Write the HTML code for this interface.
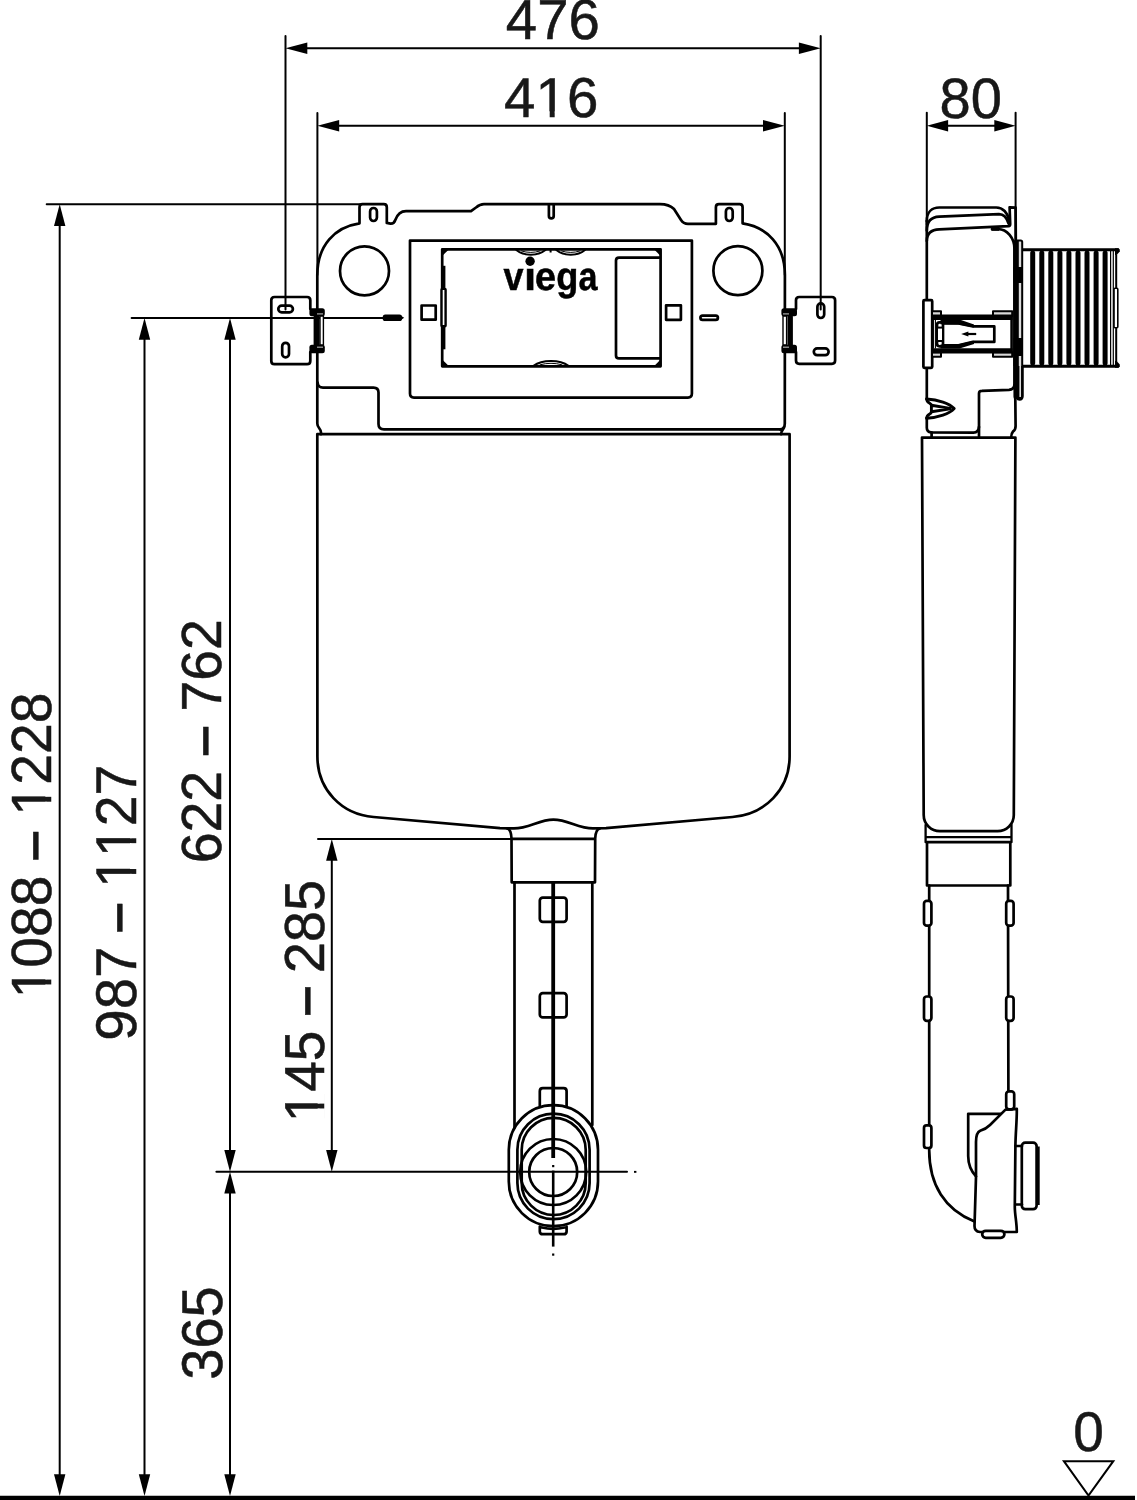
<!DOCTYPE html>
<html><head><meta charset="utf-8">
<style>
html,body{margin:0;padding:0;background:#fff;}
body{width:1137px;height:1500px;overflow:hidden;font-family:"Liberation Sans",sans-serif;}
svg{display:block;}
svg{filter:grayscale(1);}
text{font-family:"Liberation Sans",sans-serif;fill:#1a1718;stroke:#1a1718;stroke-width:0.5;text-rendering:geometricPrecision;font-kerning:none;}
.m{fill:none;stroke:#000;stroke-width:2.7;stroke-linejoin:round;stroke-linecap:round;}
.t{fill:none;stroke:#000;stroke-width:2;stroke-linecap:round;}
.k{fill:#000;stroke:none;}
</style></head><body>
<svg width="1137" height="1500" viewBox="0 0 1137 1500">
<rect width="1137" height="1500" fill="#fff"/>
<line class="t" x1="285.5" y1="36" x2="285.5" y2="309.6"/>
<line class="t" x1="820.7" y1="36" x2="820.7" y2="309.6"/>
<line class="t" x1="293.5" y1="48.2" x2="812.7" y2="48.2"/>
<polygon class="k" points="285.5,48.2 307.3,42.5 307.3,53.9"/>
<polygon class="k" points="820.7,48.2 798.9,53.9 798.9,42.5"/>
<line class="t" x1="317.4" y1="113" x2="317.4" y2="275"/>
<line class="t" x1="784.8" y1="113" x2="784.8" y2="275"/>
<line class="t" x1="325.4" y1="125.7" x2="776.8" y2="125.7"/>
<polygon class="k" points="317.4,125.7 339.2,120.0 339.2,131.4"/>
<polygon class="k" points="784.8,125.7 763.0,131.4 763.0,120.0"/>
<line class="t" x1="926.8" y1="112.7" x2="926.8" y2="225"/>
<line class="t" x1="1015.6" y1="112.7" x2="1015.6" y2="240"/>
<line class="t" x1="934.8" y1="125.7" x2="1007.6" y2="125.7"/>
<polygon class="k" points="926.8,125.7 948.1,120.0 948.1,131.4"/>
<polygon class="k" points="1015.6,125.7 994.3,131.4 994.3,120.0"/>
<line class="t" x1="46.7" y1="204.2" x2="360" y2="204.2"/>
<line class="t" x1="59.7" y1="212.2" x2="59.7" y2="1488.0"/>
<polygon class="k" points="59.7,204.2 65.4,226.0 54.0,226.0"/>
<polygon class="k" points="59.7,1496.0 54.0,1474.2 65.4,1474.2"/>
<line class="t" x1="131.6" y1="317.9" x2="384" y2="317.9"/>
<line class="t" x1="144.5" y1="325.9" x2="144.5" y2="1488.0"/>
<polygon class="k" points="144.5,317.9 150.2,339.7 138.8,339.7"/>
<polygon class="k" points="144.5,1496.0 138.8,1474.2 150.2,1474.2"/>
<line class="t" x1="230.0" y1="325.9" x2="230.0" y2="1163.8"/>
<polygon class="k" points="230.0,317.9 235.7,339.7 224.3,339.7"/>
<polygon class="k" points="230.0,1171.8 224.3,1150.0 235.7,1150.0"/>
<line class="t" x1="230.0" y1="1179.8" x2="230.0" y2="1488.0"/>
<polygon class="k" points="230.0,1171.8 235.7,1193.6 224.3,1193.6"/>
<polygon class="k" points="230.0,1496.0 224.3,1474.2 235.7,1474.2"/>
<line class="t" x1="318" y1="838.9" x2="512" y2="838.9"/>
<line class="t" x1="331.8" y1="846.9" x2="331.8" y2="1163.8"/>
<polygon class="k" points="331.8,838.9 337.5,860.7 326.1,860.7"/>
<polygon class="k" points="331.8,1171.8 326.1,1150.0 337.5,1150.0"/>
<line class="t" x1="216.4" y1="1171.8" x2="627" y2="1171.8"/>
<rect class="k" x="634" y="1170.9" width="2.4" height="1.9"/>
<line x1="0" y1="1498" x2="1135" y2="1498" stroke="#000" stroke-width="4.4"/>
<polygon class="t" points="1063.9,1461.2 1113.3,1461.2 1088.5,1495.5" stroke-linejoin="miter"/>
<g id="front">
<!-- body outline -->
<path class="m" d="M321 434.2 L321 432.5 C321 428.5 317.3 428 317.3 423.5 L317.3 275 C317.4 245 335 227 359.5 223.3 L359.5 207.2 Q359.5 204.2 362.5 204.2 L383.8 204.2 Q386.8 204.2 386.8 207.2 L386.8 222.9 L390.5 223.6 Q394 223.8 395.3 220 Q398.5 211.1 406 211.1 L471 211.1 L476 207.5 Q480 204.1 484 204.1 L660 204.1 Q669 204.1 674 209 L681 220 Q683.5 223.8 688 223.8 L715.9 223.8 L715.9 207.2 Q715.9 204.2 718.9 204.2 L739.6 204.2 Q742.6 204.2 742.6 207.2 L742.6 223.3 C767 227 784.9 245 784.9 275 L784.8 423.5 C784.8 427 783.5 429.3 780 429.3 M784.5 426.5 C783.5 430 781.1 430 781.1 434.2"/>
<!-- bottom line & step -->
<path class="m" d="M317.6 382.5 Q318 387.6 323 387.6 L373.5 387.6 Q378.5 387.6 378.5 392.6 L378.5 424 Q378.5 429.3 384 429.3 L780.6 429.3"/>
<!-- tab slots -->
<rect class="m" x="370.1" y="208" width="6.8" height="13" rx="3.4"/>
<rect class="m" x="725.9" y="208" width="6.8" height="13" rx="3.4"/>
<path class="m" d="M548.9 204.5 L548.9 216 A2.4 2.4 0 0 0 553.7 216 L553.7 204.5" stroke-width="1.8"/>
<!-- circles -->
<circle class="m" cx="364.5" cy="270.9" r="24.5"/>
<circle class="m" cx="737.9" cy="270.7" r="24.5"/>
<!-- outer frame -->
<path class="m" d="M410 240.6 L691.9 240.6 L691.9 393.5 Q691.9 397.6 687.9 397.6 L414 397.6 Q410 397.6 410 393.5 Z"/>
<!-- inner frame -->
<rect class="m" x="442.2" y="249.3" width="218.4" height="117" stroke-width="2.6" stroke-linejoin="miter"/>
<polygon class="k" points="442.2,249.3 449,249.3 442.2,256"/>
<polygon class="k" points="660.6,249.3 654,249.3 660.6,256"/>
<polygon class="k" points="442.2,366.3 449,366.3 442.2,359.5"/>
<polygon class="k" points="660.6,366.3 654,366.3 660.6,359.5"/>
<line x1="443.6" y1="265.8" x2="443.6" y2="349.3" stroke="#000" stroke-width="3.6"/>
<rect x="441.5" y="288.9" width="4.1" height="37.3" rx="0.8" fill="#fff" stroke="#000" stroke-width="2.4"/>
<!-- bumps -->
<path class="t" d="M516.3 250 Q522 254.7 530.8 254.7 Q539.5 254.7 545.5 250" style="stroke-width:2"/><path class="t" d="M521.5 251 Q530.8 253.9 540 251" style="stroke-width:1"/>
<path class="t" d="M556.3 250 Q562 254.7 570.7 254.7 Q579.5 254.7 585 250" style="stroke-width:2"/><path class="t" d="M561.5 251 Q570.7 253.9 580 251" style="stroke-width:1"/>
<path class="t" d="M533.5 365.8 Q540 360.9 551 360.9 Q562 360.9 568.5 365.8" style="stroke-width:2"/><path class="t" d="M540 364.8 Q551 361.7 562 364.8" style="stroke-width:1"/>
<rect class="k" x="549.6" y="249.3" width="2" height="3.2"/>
<!-- inner small rect -->
<path class="m" d="M659.5 257.6 L619 257.6 Q616 257.6 616 260.6 L616 355.4 Q616 358.4 619 358.4 L659.5 358.4"/>
<!-- small squares -->
<rect class="m" x="421.6" y="305.5" width="14.1" height="14.2" stroke-width="2.4"/>
<rect class="m" x="666.1" y="305.3" width="14.8" height="14.5" stroke-width="2.4"/>
<!-- dash markers -->
<rect class="k" x="382.7" y="314.6" width="19.4" height="6.4" rx="2.6"/>
<polygon class="k" points="401.3,315.9 404.2,317.8 401.3,319.7"/>
<rect class="m" x="700.4" y="315.6" width="17.5" height="4.3" rx="2.15" stroke-width="2.2"/>
<!-- brackets -->
<path class="m" d="M310.3 309 L310.3 300.2 Q310.3 297 307.1 297 L274.5 297 Q271.3 297 271.3 300.2 L271.3 361 Q271.3 364.2 274.5 364.2 L307.1 364.2 Q310.3 364.2 310.3 361 L310.3 352"/>
<rect class="m" x="278.3" y="305.6" width="14.6" height="6.8" rx="3.4"/>
<rect class="m" x="282.2" y="342.8" width="6.8" height="14.6" rx="3.4"/>
<path class="m" d="M796 309 L796 300.2 Q796 297 799.2 297 L831.9 297 Q835.1 297 835.1 300.2 L835.1 360.6 Q835.1 363.8 831.9 363.8 L799.2 363.8 Q796 363.8 796 360.6 L796 352"/>
<rect class="m" x="817.4" y="303.4" width="6.8" height="14.6" rx="3.4"/>
<rect class="m" x="813.8" y="348.4" width="14.8" height="6.8" rx="3.4"/>
<!-- clips -->
<g>
<rect class="k" x="313.6" y="315" width="6" height="31" rx="1.5"/>
<rect x="320" y="316" width="3.4" height="29" fill="#fff" stroke="#000" stroke-width="1.4"/>
<rect class="k" x="309.4" y="308.2" width="15.4" height="8" rx="2.5"/>
<rect class="k" x="309.4" y="344.8" width="15.4" height="8.4" rx="2.5"/>
<rect x="317" y="313.3" width="6" height="1.2" fill="#aaa"/>
<rect x="317" y="346.6" width="6" height="1.2" fill="#aaa"/>
</g>
<g>
<rect class="k" x="787.5" y="315" width="5.4" height="31" rx="1.5"/>
<rect x="783" y="316" width="3.6" height="29" fill="#fff" stroke="#000" stroke-width="1.4"/>
<rect class="k" x="781.4" y="308.2" width="15.6" height="8" rx="2.5"/>
<rect class="k" x="781.4" y="344.8" width="15.6" height="8.4" rx="2.5"/>
<rect x="783" y="313.3" width="6" height="1.2" fill="#aaa"/>
<rect x="783" y="346.6" width="6" height="1.2" fill="#aaa"/>
</g>
<!-- logo -->
<text transform="translate(503.46,289.8) scale(0.9046,1)" font-size="39.75" font-weight="bold" style="fill:#000;stroke:#000;stroke-width:0.5">v</text>
<text transform="translate(524.10,289.8) scale(1.1001,1)" font-size="39.75" font-weight="bold" style="fill:#000;stroke:#000;stroke-width:0.5">ı</text>
<text transform="translate(535.03,289.8) scale(0.9481,1)" font-size="39.75" font-weight="bold" style="fill:#000;stroke:#000;stroke-width:0.5">e</text>
<text transform="translate(556.22,289.8) scale(0.9104,1)" font-size="39.75" font-weight="bold" style="fill:#000;stroke:#000;stroke-width:0.5">g</text>
<text transform="translate(578.50,289.8) scale(0.8587,1)" font-size="39.75" font-weight="bold" style="fill:#000;stroke:#000;stroke-width:0.5">a</text>
<circle class="k" cx="530.1" cy="261.2" r="4.7"/>

<!-- cistern -->
<path class="m" d="M317.3 434.2 L789.6 434.2 L789.6 756.5 C789.6 789.5 765 814.4 732.5 817 L606 828.2 L593 828.4 C578 828.4 568 819.6 553.4 819.6 C539 819.6 529 828.4 514 828.4 L500 828.2 L373.6 817 C341.5 814.4 317.4 789.5 317.4 756.5 Z"/>
<!-- neck -->
<path class="m" d="M507 828.4 Q511 829 511.5 838.5 L511.7 882.3 L595 882.3 L595.2 838.5 Q595.7 829 600 828.4 M511.6 838.8 L595.2 838.8"/>
<!-- pipe -->
<line class="m" x1="514.5" y1="882.4" x2="514.5" y2="1127.5"/>
<line class="m" x1="592.3" y1="882.4" x2="592.3" y2="1125"/>
<line x1="553.2" y1="882.4" x2="553.2" y2="1158" stroke="#000" stroke-width="3.8"/>
<rect class="m" x="539.8" y="897.6" width="26.8" height="24.2" rx="3"/>
<rect class="m" x="539.8" y="993.2" width="26.8" height="24.2" rx="3"/>
<path class="m" d="M539.8 1106 L539.8 1091.2 Q539.8 1088.2 542.8 1088.2 L563.6 1088.2 Q566.6 1088.2 566.6 1091.2 L566.6 1106"/>
<!-- ovals -->
<rect class="m" x="508.8" y="1105.2" width="89.2" height="121" rx="44.6"/>
<rect class="m" x="517.4" y="1113.6" width="72.2" height="105.6" rx="36.1"/>
<rect class="m" x="521.7" y="1117.8" width="64" height="97.2" rx="32" stroke-width="2.4"/>
<circle class="m" cx="553.2" cy="1172" r="33"/>
<circle class="m" cx="553.2" cy="1172" r="24"/>
<path class="m" d="M539.8 1226.6 L539.8 1231.4 Q539.8 1234.2 542.8 1234.2 L563.6 1234.2 Q566.6 1234.2 566.6 1231.4 L566.6 1226.6 M542 1227.5 Q553 1230.3 564.5 1227.5" stroke-width="1.8"/>
<!-- centre lines -->
<line x1="553.2" y1="1170.6" x2="553.2" y2="1246.6" stroke="#000" stroke-width="2.6"/>
<rect class="k" x="552.1" y="1165" width="2.2" height="2.2"/>
<rect class="k" x="552.1" y="1253.5" width="2.2" height="2.2"/>
</g>

<g id="side">
<!-- top cap -->
<path class="m" d="M926.8 221 C926.8 212 932 207.5 939.3 207.5 L996.3 207.5 C1003 207.5 1007.5 213 1009 219.5 L1009.6 225"/>
<path class="m" d="M926.8 230.5 C926.8 221 932 216.9 939.3 216.6 L999 214.2 C1004 214.2 1007 218.5 1008.6 223.6"/>
<path class="m" d="M926.8 241 C926.8 233 932 229.6 939.3 229.3 L1008.5 226.2 Q1010.2 226 1010.2 224 L1009.6 207.3 L1015.6 207.6 L1015.8 240"/>
<path class="m" d="M992 229.2 L998 229.2 C1007 229.2 1014.5 238 1014.5 249 L1014.5 385" />
<line x1="991.5" y1="229.3" x2="999" y2="229.3" stroke="#000" stroke-width="3"/>
<!-- left line -->
<path class="m" d="M926.8 221 L926.8 300 M926.8 368 L926.8 399"/>
<!-- fin -->
<g class="m" style="stroke-width:2.9">
<path d="M926.7 399 C938 399.6 949.5 403.6 954.2 408.6 C949.5 413.8 938 417.4 926.7 418.2"/>
<path d="M931.4 405.2 L931.4 411.8 M931.4 405.2 L951.5 408.6 L931.4 411.8" stroke-linejoin="miter"/>
<path d="M926.7 399 C926.7 403.6 931.4 402.4 931.4 405.6 M931.4 411.4 C931.4 414.8 926.7 413.6 926.7 418.2"/>
</g>
<!-- lower left -->
<path class="m" d="M926.8 418.2 L926.8 427.8 Q926.8 432.2 931.2 432.4 L973.5 432.6 Q978.6 432.4 979 426.8"/>
<path class="m" d="M931.6 432.4 L931.6 437.6 M979 437.6 L979 393.5 Q979 390.8 981.8 390.8 L1009 389.8 Q1013.8 389.5 1014.5 385"/>
<path class="m" d="M1015.2 388 L1015.6 426 Q1015.6 430 1013 431.5 Q1011.2 433.4 1011.2 437.6"/>
<!-- flange -->
<rect x="1014.6" y="240.4" width="7.6" height="157.6" rx="1.5" fill="#dcdcdc" stroke="#000" stroke-width="2"/>
<rect class="k" x="1013.4" y="241" width="5.4" height="125"/><rect class="k" x="1013.8" y="366" width="5.6" height="32.5"/>
<rect class="k" x="1013.6" y="267" width="9" height="16"/>
<rect class="k" x="1013.6" y="338" width="9" height="18"/>
<path d="M1016 366 L1016.8 397 Q1017 399.5 1019.5 399.5 Q1022.4 399.5 1022.4 396 L1022.4 366" fill="none" stroke="#000" stroke-width="2.6"/>
<!-- cylinder -->
<path d="M1023 249.8 L1118.6 249.8 M1023 366.3 L1118.6 366.3" stroke="#000" stroke-width="3" fill="none"/>
<g stroke="#000" stroke-width="5" stroke-linecap="round">
<line x1="1032.7" y1="253" x2="1032.7" y2="363"/><line x1="1041.8" y1="253" x2="1041.8" y2="363"/><line x1="1050.8" y1="253" x2="1050.8" y2="363"/><line x1="1059.9" y1="253" x2="1059.9" y2="363"/><line x1="1068.9" y1="253" x2="1068.9" y2="363"/><line x1="1078" y1="253" x2="1078" y2="363"/><line x1="1087" y1="253" x2="1087" y2="363"/><line x1="1096.1" y1="253" x2="1096.1" y2="363"/><line x1="1105.1" y1="253" x2="1105.1" y2="363"/>
</g>
<path d="M1110.6 251 L1110.6 365 M1113.3 251 L1113.3 365" stroke="#000" stroke-width="1.2" fill="none"/>
<path d="M1116.2 254.5 L1116.2 362" stroke="#000" stroke-width="2" fill="none"/>
<polygon class="k" points="1115,248.3 1118.6,248.3 1119.8,249.6 1119.8,251.5 1116.6,255 1115,255"/>
<polygon class="k" points="1115,367.8 1118.6,367.8 1119.8,366.5 1119.8,364.6 1116.6,361 1115,361"/>
<rect x="1114" y="288.3" width="3.8" height="39.5" rx="1" fill="#fff" stroke="#000" stroke-width="1.6"/>
<!-- left plate -->
<rect class="m" x="923.4" y="300.2" width="8.8" height="67.6" rx="1" fill="#fff" style="fill:#fff"/>
<!-- valve -->
<g fill="#d8d8d8" stroke="#000" stroke-width="2" stroke-linejoin="round">
<rect x="932" y="311.2" width="9" height="5"/><rect x="932" y="352.2" width="9" height="4.6"/>
<rect x="993" y="311.2" width="19.2" height="5"/><rect x="993" y="352.2" width="19.2" height="4.6"/>
</g>
<line x1="931.4" y1="317.3" x2="1012.6" y2="317.3" stroke="#000" stroke-width="5.6"/>
<line x1="931.4" y1="350.9" x2="1012.6" y2="350.9" stroke="#000" stroke-width="5.4"/>
<line x1="1011.6" y1="315" x2="1011.6" y2="353" stroke="#000" stroke-width="2.6"/>
<path d="M933.4 320 L933.4 348.4 M935.4 320 L935.4 348.4" stroke="#000" stroke-width="1.1" fill="none"/>
<polygon class="k" points="940.5,319.5 959.5,319.5 974,324.4 974,327.6 958.5,324.6 940.5,324.2"/>
<polygon class="k" points="940.5,348.6 959.5,348.6 974,343.9 974,340.7 958.5,344.2 940.5,344.6"/>
<path d="M943 323.5 L958.5 323.5 L973 326.4 L994.3 326.4 L994.3 341.9 L973 341.9 L958.5 345.3 L943 345.3" class="m" stroke-width="2.2" stroke-linejoin="miter"/>
<path d="M943 322.4 L939.5 322.4 Q937 322.4 937 325 L937 327 M937 341.8 L937 343.8 Q937 346.3 939.5 346.3 L943 346.3 M943 322.4 L943 346.3" class="m" stroke-width="2"/>
<rect x="937" y="327.6" width="6" height="13.4" fill="#fff" stroke="#000" stroke-width="2"/>
<line x1="966" y1="334" x2="976.2" y2="334" stroke="#000" stroke-width="2.2"/>
<polygon class="k" points="961.2,334 968.4,331.4 968.4,336.6"/>
<!-- cistern side -->
<path class="m" d="M922 437.6 L1015.4 437.6 L1013.8 815 A16.2 16.2 0 0 1 997.6 831.2 L939.9 831.2 A16.2 16.2 0 0 1 923.7 815 Z"/>
<path class="m" d="M925.6 825 L925.6 842.2 M1011.5 825 L1011.5 842.2 M925.6 837.2 L1011.5 837.2" style="stroke-width:2.3"/>
<path class="m" d="M927 842.2 L1010.3 842.2 L1010.3 885.5 L927 885.5 Z"/>
<!-- pipe -->
<path class="m" d="M929.2 885.5 L929.2 1150 C929.2 1185 945 1210 974.5 1221.5"/>
<path class="m" d="M1008 885.5 L1008.4 1092"/>
<g class="m" style="fill:#fff">
<rect x="924" y="900.9" width="7.4" height="24.8" rx="2.8"/><rect x="924" y="996.5" width="7.4" height="24.4" rx="2.8"/><rect x="924" y="1125.4" width="7.4" height="22.6" rx="2.5"/>
<rect x="1006.2" y="900.9" width="7.4" height="24.8" rx="2.8"/><rect x="1006.2" y="996.5" width="7.4" height="24.4" rx="2.8"/><rect x="1006.2" y="1091.4" width="8" height="18" rx="2.8"/>
</g>
<!-- elbow -->
<path class="m" d="M1000.6 1113.8 L968.2 1113.8 L968.2 1156 C968.2 1164 971 1171 976 1176.4"/>
<path class="m" d="M1005.5 1109.6 L990 1125 Q986 1129 980.2 1130.7 C977 1132 976 1136 976 1142 L976 1177 L974.5 1226 Q974.5 1231.5 980 1232 L1016.8 1232 C1016.8 1222 1014.8 1215 1014.8 1207 L1015.4 1146 C1015.6 1132 1017 1120 1016.8 1108.8 Q1011 1109.5 1005.5 1109.6 Z"/>
<rect class="m" x="982.2" y="1230.8" width="22.2" height="7" rx="3.5" style="fill:#fff"/>
<path class="m" d="M1015.4 1146 L1022 1146 M1015.2 1204.5 L1022 1204.5"/>
<rect class="m" x="1021.8" y="1142.6" width="14.8" height="66.6" rx="3.5"/>
<line x1="1038.4" y1="1146.5" x2="1038.4" y2="1205" stroke="#000" stroke-width="2.6"/>
</g>

<g id="txt">
<g transform="translate(505.81,38.95) scale(1.0057,1.0089)"><text font-size="56">476</text></g>
<g transform="translate(504.10,117.25) scale(1.0079,1.0013)"><text font-size="56">416</text><rect x="32.79" y="-5.88" width="12.44" height="7.25" fill="#fff"/><rect x="50.18" y="-5.88" width="11.05" height="7.25" fill="#fff"/></g>
<g transform="translate(939.57,117.64) scale(1.0006,1.0164)"><text font-size="56">80</text></g>
<g transform="translate(1073.15,1450.65) scale(0.9825,0.9988)"><text font-size="56">0</text></g>
<g transform="translate(51.34,998.30) rotate(-90) scale(0.9841,1.0113)"><text font-size="56">1088</text><rect x="1.64" y="-5.88" width="12.44" height="7.25" fill="#fff"/><rect x="19.03" y="-5.88" width="11.05" height="7.25" fill="#fff"/></g>
<g transform="translate(53.55,859.40) rotate(-90) scale(0.8838,1.2813)"><text font-size="56">–</text></g>
<g transform="translate(51.34,815.61) rotate(-90) scale(0.9875,1.0113)"><text font-size="56">1228</text><rect x="1.64" y="-5.88" width="12.44" height="7.25" fill="#fff"/><rect x="19.03" y="-5.88" width="11.05" height="7.25" fill="#fff"/></g>
<g transform="translate(136.04,1040.64) rotate(-90) scale(1.0046,1.0240)"><text font-size="56">987</text></g>
<g transform="translate(138.24,931.60) rotate(-90) scale(0.8870,1.2813)"><text font-size="56">–</text></g>
<g transform="translate(136.04,887.81) rotate(-90) scale(0.9873,1.0240)"><text font-size="56">1127</text><rect x="1.64" y="-5.88" width="12.44" height="7.25" fill="#fff"/><rect x="19.03" y="-5.88" width="11.05" height="7.25" fill="#fff"/><rect x="32.79" y="-5.88" width="12.44" height="7.25" fill="#fff"/><rect x="50.18" y="-5.88" width="11.05" height="7.25" fill="#fff"/></g>
<g transform="translate(221.45,863.32) rotate(-90) scale(0.9900,1.0088)"><text font-size="56">622</text></g>
<g transform="translate(223.65,755.00) rotate(-90) scale(0.8998,1.2813)"><text font-size="56">–</text></g>
<g transform="translate(221.45,711.54) rotate(-90) scale(0.9881,1.0088)"><text font-size="56">762</text></g>
<g transform="translate(323.55,1122.29) rotate(-90) scale(0.9814,1.0063)"><text font-size="56">145</text><rect x="1.64" y="-5.88" width="12.44" height="7.25" fill="#fff"/><rect x="19.03" y="-5.88" width="11.05" height="7.25" fill="#fff"/></g>
<g transform="translate(325.75,1014.70) rotate(-90) scale(0.8805,1.2813)"><text font-size="56">–</text></g>
<g transform="translate(323.55,973.32) rotate(-90) scale(1.0015,1.0063)"><text font-size="56">285</text></g>
<g transform="translate(221.84,1379.63) rotate(-90) scale(0.9994,1.0265)"><text font-size="56">365</text></g>
</g>

</svg>
</body></html>
